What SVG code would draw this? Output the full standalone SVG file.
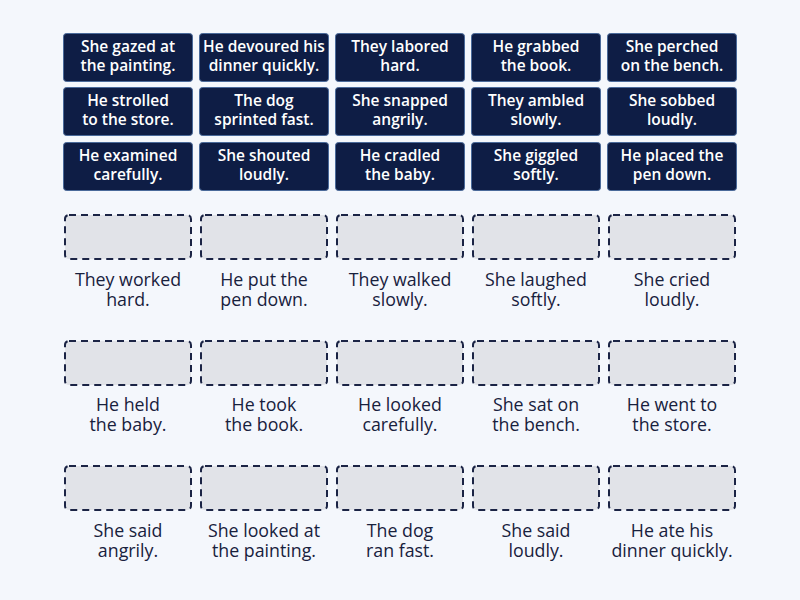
<svg xmlns="http://www.w3.org/2000/svg" width="800" height="600" viewBox="0 0 800 600">
<style>
.t rect{fill:#0e1d45;stroke:#4a6a9a;stroke-width:1}
.t text{fill:#fff;font-family:"Open Sans",sans-serif;font-weight:600;font-size:15.5px;text-anchor:middle}
.d rect{fill:#e1e3e8;stroke:#1b2445;stroke-width:2;stroke-dasharray:7,5}
.d text{fill:#18213d;font-family:"Open Sans",sans-serif;font-size:17.8px;text-anchor:middle}
</style>
<rect width="800" height="600" fill="#f4f7fc"/>
<g class="t">
<g id="t1"><rect x="63.5" y="33.5" width="129" height="48" rx="3"/><text x="128" y="52">She gazed at</text><text x="128" y="71">the painting.</text></g>
<g id="t2"><rect x="199.5" y="33.5" width="129" height="48" rx="3"/><text x="264" y="52">He devoured his</text><text x="264" y="71">dinner quickly.</text></g>
<g id="t3"><rect x="335.5" y="33.5" width="129" height="48" rx="3"/><text x="400" y="52">They labored</text><text x="400" y="71">hard.</text></g>
<g id="t4"><rect x="471.5" y="33.5" width="129" height="48" rx="3"/><text x="536" y="52">He grabbed</text><text x="536" y="71">the book.</text></g>
<g id="t5"><rect x="607.5" y="33.5" width="129" height="48" rx="3"/><text x="672" y="52">She perched</text><text x="672" y="71">on the bench.</text></g>
<g id="t6"><rect x="63.5" y="87.5" width="129" height="48" rx="3"/><text x="128" y="106">He strolled</text><text x="128" y="125">to the store.</text></g>
<g id="t7"><rect x="199.5" y="87.5" width="129" height="48" rx="3"/><text x="264" y="106">The dog</text><text x="264" y="125">sprinted fast.</text></g>
<g id="t8"><rect x="335.5" y="87.5" width="129" height="48" rx="3"/><text x="400" y="106">She snapped</text><text x="400" y="125">angrily.</text></g>
<g id="t9"><rect x="471.5" y="87.5" width="129" height="48" rx="3"/><text x="536" y="106">They ambled</text><text x="536" y="125">slowly.</text></g>
<g id="t10"><rect x="607.5" y="87.5" width="129" height="48" rx="3"/><text x="672" y="106">She sobbed</text><text x="672" y="125">loudly.</text></g>
<g id="t11"><rect x="63.5" y="142.5" width="129" height="48" rx="3"/><text x="128" y="161">He examined</text><text x="128" y="180">carefully.</text></g>
<g id="t12"><rect x="199.5" y="142.5" width="129" height="48" rx="3"/><text x="264" y="161">She shouted</text><text x="264" y="180">loudly.</text></g>
<g id="t13"><rect x="335.5" y="142.5" width="129" height="48" rx="3"/><text x="400" y="161">He cradled</text><text x="400" y="180">the baby.</text></g>
<g id="t14"><rect x="471.5" y="142.5" width="129" height="48" rx="3"/><text x="536" y="161">She giggled</text><text x="536" y="180">softly.</text></g>
<g id="t15"><rect x="607.5" y="142.5" width="129" height="48" rx="3"/><text x="672" y="161">He placed the</text><text x="672" y="180">pen down.</text></g>
</g>
<g class="d">
<g id="d1"><rect x="65" y="215" width="126" height="44" rx="4"/><text x="128" y="286">They worked</text><text x="128" y="306">hard.</text></g>
<g id="d2"><rect x="201" y="215" width="126" height="44" rx="4"/><text x="264" y="286">He put the</text><text x="264" y="306">pen down.</text></g>
<g id="d3"><rect x="337" y="215" width="126" height="44" rx="4"/><text x="400" y="286">They walked</text><text x="400" y="306">slowly.</text></g>
<g id="d4"><rect x="473" y="215" width="126" height="44" rx="4"/><text x="536" y="286">She laughed</text><text x="536" y="306">softly.</text></g>
<g id="d5"><rect x="609" y="215" width="126" height="44" rx="4"/><text x="672" y="286">She cried</text><text x="672" y="306">loudly.</text></g>
<g id="d6"><rect x="65" y="341" width="126" height="44" rx="4"/><text x="128" y="411">He held</text><text x="128" y="431">the baby.</text></g>
<g id="d7"><rect x="201" y="341" width="126" height="44" rx="4"/><text x="264" y="411">He took</text><text x="264" y="431">the book.</text></g>
<g id="d8"><rect x="337" y="341" width="126" height="44" rx="4"/><text x="400" y="411">He looked</text><text x="400" y="431">carefully.</text></g>
<g id="d9"><rect x="473" y="341" width="126" height="44" rx="4"/><text x="536" y="411">She sat on</text><text x="536" y="431">the bench.</text></g>
<g id="d10"><rect x="609" y="341" width="126" height="44" rx="4"/><text x="672" y="411">He went to</text><text x="672" y="431">the store.</text></g>
<g id="d11"><rect x="65" y="466" width="126" height="44" rx="4"/><text x="128" y="537">She said</text><text x="128" y="557">angrily.</text></g>
<g id="d12"><rect x="201" y="466" width="126" height="44" rx="4"/><text x="264" y="537">She looked at</text><text x="264" y="557">the painting.</text></g>
<g id="d13"><rect x="337" y="466" width="126" height="44" rx="4"/><text x="400" y="537">The dog</text><text x="400" y="557">ran fast.</text></g>
<g id="d14"><rect x="473" y="466" width="126" height="44" rx="4"/><text x="536" y="537">She said</text><text x="536" y="557">loudly.</text></g>
<g id="d15"><rect x="609" y="466" width="126" height="44" rx="4"/><text x="672" y="537">He ate his</text><text x="672" y="557">dinner quickly.</text></g>
</g>
<g id="connectors"/>
</svg>
